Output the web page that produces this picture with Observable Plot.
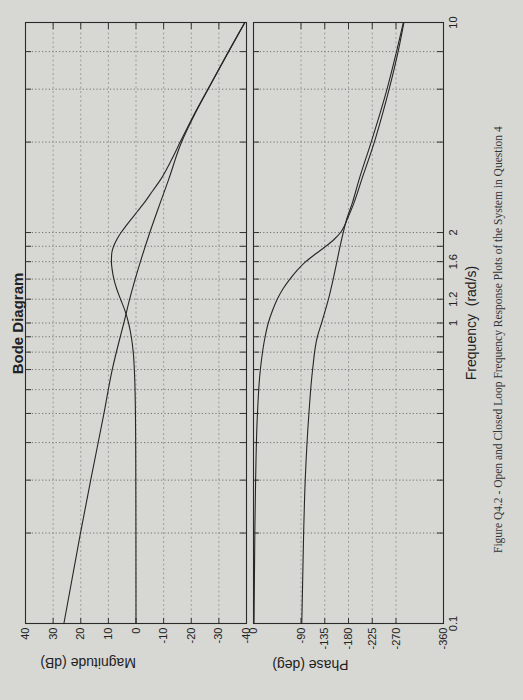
<!DOCTYPE html>
<html>
<head>
<meta charset="utf-8">
<script src="https://cdn.jsdelivr.net/npm/d3@7"></script>
<script src="https://cdn.jsdelivr.net/npm/@observablehq/plot@0.6"></script>
<style>
  html, body { margin: 0; padding: 0; }
  body { width: 523px; height: 700px; overflow: hidden; background: #d7d7d3; position: relative; }
  #figure {
    position: absolute; left: 0; top: 0; width: 700px; height: 523px;
    transform-origin: 0 0; transform: translate(0px, 700px) rotate(-90deg);
    font-family: "Liberation Sans", Arial, sans-serif; color: #222;
  }
  #title {
    position: absolute; left: 76px; width: 601px; top: 9px; text-align: center;
    font-weight: bold; font-size: 15px; line-height: 17px; margin: 0;
  }
  #mag { position: absolute; left: 0; top: 0; }
  #phase { position: absolute; left: 0; top: 249px; }
  #mag svg, #phase svg { overflow: visible; }
  #caption {
    position: absolute; left: 147px; top: 491px; white-space: nowrap;
    font-family: "Liberation Serif", "Times New Roman", serif; font-size: 11.5px; line-height: 14px; color: #333;
  }
</style>
</head>
<body>
<div id="figure">
  <div id="title">Bode Diagram</div>
  <div id="mag"></div>
  <div id="phase"></div>
  <div id="caption">Figure Q4.2 - Open and Closed Loop Frequency Response Plots of the System in Question 4</div>
</div>
<script>
// ---- tick values & labels ----
const freqTicks  = [0.1, 0.2, 0.3, 0.4, 0.5, 0.6, 0.7, 0.8, 0.9, 1, 1.2, 1.4, 1.6, 1.8, 2, 4, 6, 8, 10];
const freqLabels = ["0.1", "", "", "", "", "", "", "", "", "1", "1.2", "", "1.6", "", "2", "4", "6", "8", "10"];
const magTicks   = [40, 30, 20, 10, 0, -10, -20, -30, -40];
const phaseTicks = [0, -90, -135, -180, -225, -270, -360];

// ---- open-loop magnitude (dB) ----
const olMagFreq = [0.1, 0.2, 0.3, 0.5, 0.7, 0.9, 1, 1.2, 1.6, 2, 2.5, 3, 4, 5, 6, 8, 10];
const olMagDb   = [26.1, 20.1, 16.4, 11.6, 8.6, 5.7, 4.4, 2.3, -1.6, -5.0, -8.7, -11.8, -16.5, -21.5, -26.1, -33.5, -39.4];

// ---- closed-loop magnitude (dB) ----
const clMagFreq = [0.1, 0.2, 0.3, 0.4, 0.5, 0.6, 0.7, 0.8, 0.9, 1, 1.1, 1.2, 1.3, 1.4, 1.5, 1.6, 1.7, 1.8, 1.9, 2, 2.1, 2.2, 2.35, 2.5, 2.75, 3, 3.5, 4, 5, 6, 8, 10];
const clMagDb   = [0, 0.03, 0.07, 0.12, 0.2, 0.35, 0.6, 1.0, 1.7, 2.7, 4.0, 5.6, 7.0, 8.0, 8.6, 8.9, 8.8, 8.1, 6.9, 5.4, 3.7, 2.0, -0.5, -2.8, -6.0, -8.9, -12.9, -16.0, -21.3, -26.0, -33.5, -39.4];

// ---- open-loop phase (deg) ----
const olPhaseFreq = [0.1, 0.2, 0.3, 0.5, 0.7, 0.9, 1, 1.2, 1.4, 1.6, 1.8, 2, 2.2, 2.5, 3, 4, 5, 6, 8, 10];
const olPhaseDeg  = [-91.5, -95, -98, -105, -112, -121, -129, -142, -151, -158, -164, -170, -176, -187, -200, -223, -240, -253, -271, -284];

// ---- closed-loop phase (deg) ----
const clPhaseFreq = [0.1, 0.2, 0.3, 0.5, 0.7, 0.9, 1, 1.1, 1.2, 1.3, 1.4, 1.5, 1.6, 1.7, 1.8, 1.9, 2, 2.1, 2.2, 2.5, 3, 4, 5, 6, 8, 10];
const clPhaseDeg  = [-1, -2.5, -4, -7.5, -13, -22, -28, -36, -45, -56, -69, -83, -99, -118, -137, -153, -165, -172, -177, -190, -205, -229, -245, -257, -274, -285];

const toRows = (fs, vs) => fs.map((f, i) => ({f, v: vs[i]}));
const olMag = toRows(olMagFreq, olMagDb);
const clMag = toRows(clMagFreq, clMagDb);
const olPh = toRows(olPhaseFreq, olPhaseDeg);
const clPh = toRows(clPhaseFreq, clPhaseDeg);

const innerFreq = freqTicks.filter(f => f > 0.1 && f < 10);
const labelOf = f => freqLabels[freqTicks.indexOf(f)];
const fmt = d => String(d);

const W = 700, ML = 76, MR = 23;
const lineColor = "#262626";
const gridDark = "#5a5a5a", gridLight = "#8f8f8f";
const TL = 6; // inward tick length (px)

function panel({yDomain, yTicks, yLabel, height, mt, mb, data, xLabels, labelDx}) {
  const fh = height - mt - mb, fw = W - ML - MR;
  const yGrid = yTicks.filter(t => t !== yDomain[0] && t !== yDomain[1]);
  const marks = [
    Plot.gridX(innerFreq, {stroke: gridDark, strokeOpacity: 0.9, strokeDasharray: "1.2,2.2", strokeWidth: 0.9}),
    Plot.gridY(yGrid, {stroke: gridLight, strokeOpacity: 0.9, strokeDasharray: "2,2.5", strokeWidth: 0.9}),
    Plot.tickX(freqTicks, {x: d => d, insetTop: fh - TL, stroke: "#333"}),
    Plot.tickX(freqTicks, {x: d => d, insetBottom: fh - TL, stroke: "#333"}),
    Plot.tickY(yTicks, {y: d => d, insetRight: fw - TL, stroke: "#333"}),
    Plot.tickY(yTicks, {y: d => d, insetLeft: fw - TL, stroke: "#333"}),
    Plot.axisY(yTicks, {tickSize: 0, tickPadding: 4, tickFormat: fmt, fontSize: 11, label: null}),
    Plot.frame({stroke: "#2a2a2a", strokeWidth: 1.1}),
    ...data.map(d => Plot.line(d, {x: "f", y: "v", curve: "monotone-x", stroke: lineColor, strokeWidth: 1.1})),
    Plot.text([yLabel], {frameAnchor: "left", dx: labelDx, rotate: -90, fontSize: 14, fill: "#222"})
  ];
  if (xLabels) {
    marks.push(Plot.axisX(freqTicks, {tickSize: 0, tickPadding: 6, tickFormat: labelOf, fontSize: 11, label: null}));
    marks.push(Plot.text(["Frequency  (rad/s)"], {frameAnchor: "bottom", dy: 32, fontSize: 14, fill: "#222"}));
  }
  return Plot.plot({
    width: W, height,
    marginLeft: ML, marginRight: MR, marginTop: mt, marginBottom: mb,
    style: {background: "transparent", overflow: "visible", fontFamily: "Liberation Sans, Arial, sans-serif", color: "#222"},
    x: {type: "log", domain: [0.1, 10], axis: xLabels ? undefined : null},
    y: {domain: yDomain},
    marks
  });
}

document.getElementById("mag").appendChild(panel({
  yDomain: [-40, 40], yTicks: magTicks, yLabel: "Magnitude (dB)",
  height: 250, mt: 25, mb: 4, data: [olMag, clMag], xLabels: false, labelDx: -39
}));
document.getElementById("phase").appendChild(panel({
  yDomain: [-360, 0], yTicks: phaseTicks, yLabel: "Phase (deg)",
  height: 274, mt: 4, mb: 80, data: [olPh, clPh], xLabels: true, labelDx: -41
}));
</script>
</body>
</html>
